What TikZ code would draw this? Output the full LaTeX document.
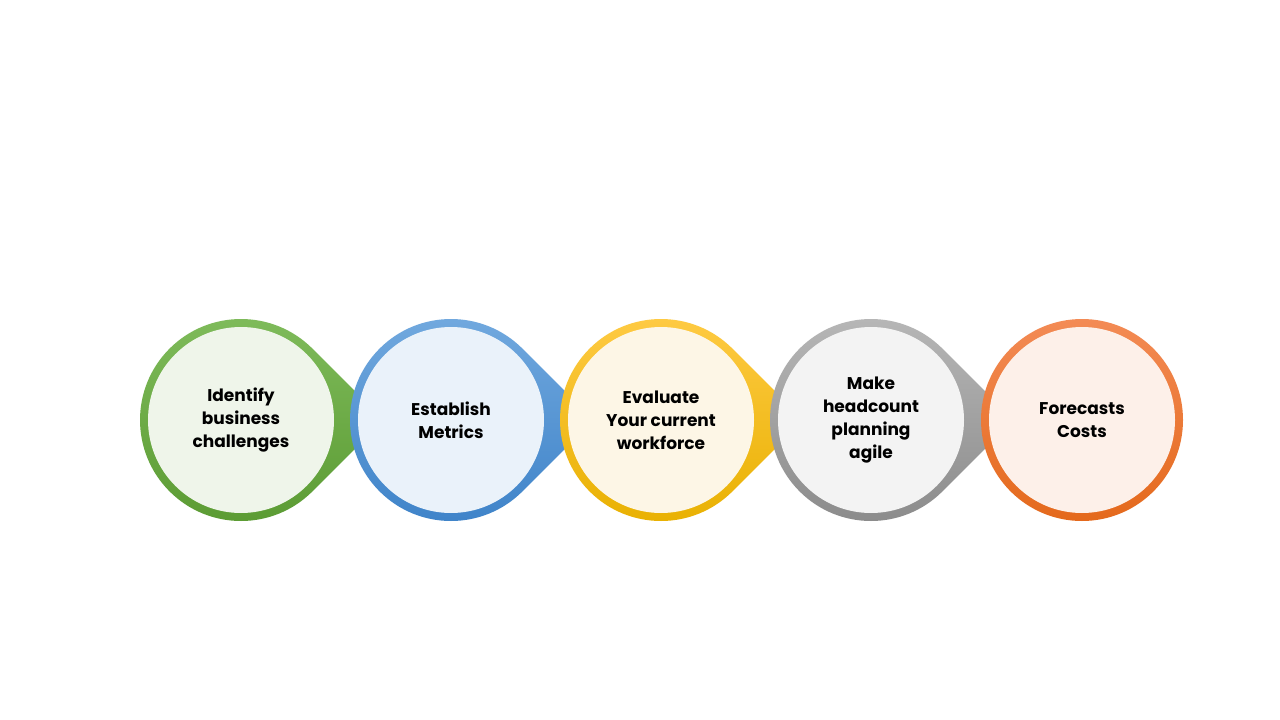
\documentclass[tikz,border=0pt]{standalone}
\usepackage{fontspec}
\setmainfont{Poppins}
\definecolor{gA}{HTML}{80BC5C}\definecolor{gB}{HTML}{5A9A32}\definecolor{gF}{HTML}{EFF5EA}
\definecolor{bA}{HTML}{73AADF}\definecolor{bB}{HTML}{3D82C8}\definecolor{bF}{HTML}{EAF2FA}
\definecolor{yA}{HTML}{FFCB45}\definecolor{yB}{HTML}{E8B000}\definecolor{yF}{HTML}{FDF6E6}
\definecolor{hA}{HTML}{B8B8B8}\definecolor{hB}{HTML}{8A8A8A}\definecolor{hF}{HTML}{F3F3F3}
\definecolor{oA}{HTML}{F38B55}\definecolor{oB}{HTML}{E4691C}\definecolor{oF}{HTML}{FDF0E9}
\tikzset{lbl/.style={align=center,font=\bfseries\fontsize{17}{23}\selectfont,text=black}}
\newcommand{\drop}[6]{%
 \shade[top color=#2,bottom color=#3] (#1,420) ++(45:101) arc (45:315:101) -- (#1+142.8,420) -- cycle;
 \fill[#4] (#1,420) circle (93);
 \node[lbl] (#5) at (#1,420) {#6};}
\newcommand{\ring}[6]{%
 \shade[top color=#2,bottom color=#3] (#1,420) circle (101);
 \fill[#4] (#1,420) circle (93);
 \node[lbl] (#5) at (#1,420) {#6};}
\begin{document}
\begin{tikzpicture}[x=1pt,y=-1pt]
\useasboundingbox (0,0) rectangle (1280,720);
\fill[white] (0,0) rectangle (1280,720);
\drop{241}{gA}{gB}{gF}{n1}{Identify\\business\\challenges}
\drop{451}{bA}{bB}{bF}{n2}{Establish\\Metrics}
\drop{661}{yA}{yB}{yF}{n3}{Evaluate\\Your current\\workforce}
\drop{871}{hA}{hB}{hF}{n4}{Make\\headcount\\planning\\agile}
\ring{1082}{oA}{oB}{oF}{n5}{Forecasts\\Costs}
\end{tikzpicture}
\end{document}
